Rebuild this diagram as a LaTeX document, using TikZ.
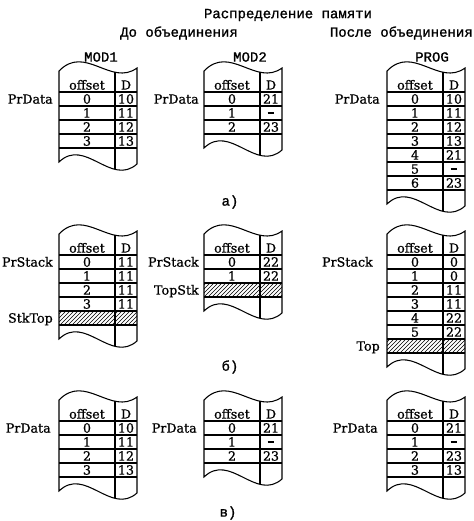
\documentclass[tikz,border=0pt]{standalone}
\usepackage{fontspec}
\setmainfont{DejaVu Serif}[FakeBold=0.7]
\newfontfamily\monof{Liberation Mono}[FakeBold=1.2]
\usetikzlibrary{patterns}
\newcommand\nodash{\raisebox{2.6pt}{\rule{5pt}{1.3pt}}}
\tikzset{
  cell/.style={font=\fontsize{9.5}{11}\selectfont, inner sep=0pt, text height=6.9pt, text depth=0pt},
  lab/.style={cell, anchor=east},
  ttl/.style={font=\monof\fontsize{10.5}{12}\selectfont, inner sep=0pt},
  tline/.style={line width=0.8pt},
}
% #1 prefix, #2 L, #3 Y (header line), #4 B (bottom-left), #5 list of D values
\newcommand\memtape[5]{%
  \begin{scope}
    \clip (#2,#3-21) .. controls (#2+26,#3-48) and (#2+52,#3-5) .. (#2+78,#3-24) -- (#2+78,#4+2) .. controls (#2+52,#4+25) and (#2+26,#4-25) .. (#2,#4) -- cycle;
    \draw[tline] (#2+56,#3-60) -- (#2+56,#4+40);
  \end{scope}
  \draw[tline] (#2,#3-21) .. controls (#2+26,#3-48) and (#2+52,#3-5) .. (#2+78,#3-24) -- (#2+78,#4+2) .. controls (#2+52,#4+25) and (#2+26,#4-25) .. (#2,#4) -- cycle;
  \node[cell] (#1h1) at (#2+28,#3-7) {offset};
  \node[cell] (#1h2) at (#2+67,#3-7) {D};
  \draw[tline] (#2,#3) -- (#2+78,#3);
  \foreach \v [count=\i from 0] in {#5} {
    \node[cell] (#1o\i) at (#2+28,#3+7+14*\i) {\i};
    \node[cell] (#1d\i) at (#2+67,#3+7+14*\i) {\v};
    \draw[tline] (#2,#3+14+14*\i) -- (#2+78,#3+14+14*\i);
  }
}
% #1 L, #2 top y of hatched row
\newcommand\memhatch[2]{%
  \fill[pattern=north east lines] (#1,#2) rectangle (#1+78,#2+14);
  \draw[tline] (#1,#2+14) -- (#1+78,#2+14);
  \draw[tline] (#1+56,#2) -- (#1+56,#2+14);
}
\begin{document}
\begin{tikzpicture}[x=0.75pt,y=-0.75pt]
\useasboundingbox (0,0) rectangle (474,521);
% titles
\node[ttl] (title) at (288,15) {Распределение памяти};
\node[ttl] (before) at (179,33) {До объединения};
\node[ttl, anchor=east] (after) at (473,33) {После объединения};
\node[ttl] (mod1) at (101,57) {MOD1};
\node[ttl] (mod2) at (250,57) {MOD2};
\node[ttl] (prog) at (432,57) {PROG};
% ---- panel a
\memtape{aa}{59}{92}{162}{10,11,12,13}
\memtape{ab}{204}{92}{148}{21,\nodash,23}
\memtape{ac}{387}{92}{204}{10,11,12,13,21,\nodash,23}
\node[lab] (la1) at (53,99) {PrData};
\node[lab] (la2) at (199,99) {PrData};
\node[lab] (la3) at (380,99) {PrData};
\node[ttl] (capa) at (230,202) {а)};
% ---- panel b
\memtape{ba}{59}{255}{339}{11,11,11,11}
\memhatch{59}{311}
\memtape{bb}{204}{255}{311}{22,22}
\memhatch{204}{283}
\memtape{bc}{387}{255}{367}{0,0,11,11,22,22}
\memhatch{387}{339}
\node[lab] (lb1) at (53,262) {PrStack};
\node[lab] (lb2) at (53,318) {StkTop};
\node[lab] (lb3) at (199,262) {PrStack};
\node[lab] (lb4) at (199,290) {TopStk};
\node[lab] (lb5) at (373,262) {PrStack};
\node[lab] (lb6) at (380,346) {Top};
\node[ttl] (capb) at (230,367) {б)};
% ---- panel c
\memtape{ca}{59}{421}{491}{10,11,12,13}
\memtape{cb}{204}{421}{477}{21,\nodash,23}
\memtape{cc}{387}{421}{491}{21,\nodash,23,13}
\node[lab] (lc1) at (51,428) {PrData};
\node[lab] (lc2) at (197,428) {PrData};
\node[lab] (lc3) at (378,428) {PrData};
\node[ttl] (capc) at (228,513) {в)};
\end{tikzpicture}
\end{document}
